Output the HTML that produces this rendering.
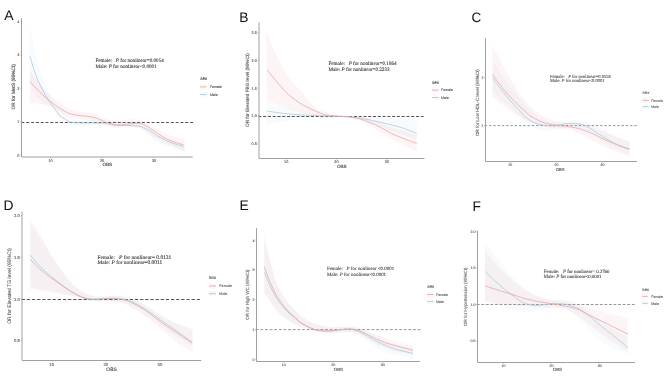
<!DOCTYPE html>
<html><head><meta charset="utf-8"><style>
html,body{margin:0;padding:0;background:#fff;width:669px;height:377px;overflow:hidden;}
svg{display:block;filter:blur(0.45px);}
text{text-rendering:geometricPrecision;}
</style></head><body>
<svg width="669" height="377" viewBox="0 0 669 377" font-family='"Liberation Sans", sans-serif'>
<rect width="669" height="377" fill="#fff"/>
<path d="M29.80,70.00 C31.50,72.33 36.63,79.83 40.00,84.00 C43.37,88.17 46.67,91.83 50.00,95.00 C53.33,98.17 56.67,100.67 60.00,103.00 C63.33,105.33 65.83,107.42 70.00,109.00 C74.17,110.58 80.83,111.75 85.00,112.50 C89.17,113.25 91.67,112.50 95.00,113.50 C98.33,114.50 101.67,117.33 105.00,118.50 C108.33,119.67 111.33,120.33 115.00,120.50 C118.67,120.67 122.83,119.58 127.00,119.50 C131.17,119.42 135.33,118.50 140.00,120.00 C144.67,121.50 150.00,125.92 155.00,128.50 C160.00,131.08 165.05,133.67 170.00,135.50 C174.95,137.33 182.25,138.83 184.70,139.50 L184.70,151.00 C182.25,150.08 174.95,147.67 170.00,145.50 C165.05,143.33 160.00,140.92 155.00,138.00 C150.00,135.08 144.67,129.92 140.00,128.00 C135.33,126.08 131.17,126.67 127.00,126.50 C122.83,126.33 118.67,127.17 115.00,127.00 C111.33,126.83 108.33,126.42 105.00,125.50 C101.67,124.58 98.33,122.42 95.00,121.50 C91.67,120.58 89.17,120.75 85.00,120.00 C80.83,119.25 74.17,118.33 70.00,117.00 C65.83,115.67 63.33,113.83 60.00,112.00 C56.67,110.17 53.33,107.33 50.00,106.00 C46.67,104.67 43.37,104.50 40.00,104.00 C36.63,103.50 31.50,103.17 29.80,103.00 Z" fill="#f0969b" fill-opacity="0.10"/>
<path d="M29.80,25.00 C30.67,29.17 33.30,42.50 35.00,50.00 C36.70,57.50 38.33,64.33 40.00,70.00 C41.67,75.67 43.33,79.83 45.00,84.00 C46.67,88.17 48.33,91.83 50.00,95.00 C51.67,98.17 53.33,100.50 55.00,103.00 C56.67,105.50 57.50,107.67 60.00,110.00 C62.50,112.33 65.83,115.33 70.00,117.00 C74.17,118.67 79.17,119.42 85.00,120.00 C90.83,120.58 100.00,120.17 105.00,120.50 C110.00,120.83 111.33,121.67 115.00,122.00 C118.67,122.33 122.83,122.33 127.00,122.50 C131.17,122.67 135.33,121.08 140.00,123.00 C144.67,124.92 150.00,131.17 155.00,134.00 C160.00,136.83 165.05,138.42 170.00,140.00 C174.95,141.58 182.25,142.92 184.70,143.50 L184.70,151.50 C182.25,150.75 174.95,148.83 170.00,147.00 C165.05,145.17 160.00,143.50 155.00,140.50 C150.00,137.50 144.67,131.25 140.00,129.00 C135.33,126.75 131.17,127.25 127.00,127.00 C122.83,126.75 118.67,127.75 115.00,127.50 C111.33,127.25 110.00,125.83 105.00,125.50 C100.00,125.17 90.83,125.67 85.00,125.50 C79.17,125.33 74.17,125.58 70.00,124.50 C65.83,123.42 62.50,120.92 60.00,119.00 C57.50,117.08 56.67,114.83 55.00,113.00 C53.33,111.17 51.67,109.50 50.00,108.00 C48.33,106.50 46.67,105.33 45.00,104.00 C43.33,102.67 41.67,101.50 40.00,100.00 C38.33,98.50 36.70,97.50 35.00,95.00 C33.30,92.50 30.67,86.67 29.80,85.00 Z" fill="#96c8dc" fill-opacity="0.07"/>
<line x1="21.40" y1="122.50" x2="193.20" y2="122.50" stroke="#555555" stroke-width="1.10" stroke-dasharray="3.0,1.82"/>
<path d="M29.80,55.80 C30.58,58.38 32.92,66.73 34.50,71.30 C36.08,75.87 37.70,79.62 39.30,83.20 C40.90,86.78 42.50,89.82 44.10,92.80 C45.70,95.78 47.32,98.72 48.90,101.10 C50.48,103.48 51.75,104.67 53.60,107.10 C55.45,109.53 58.03,113.67 60.00,115.70 C61.97,117.73 63.90,118.33 65.40,119.30 C66.90,120.27 67.40,120.92 69.00,121.50 C70.60,122.08 71.50,122.55 75.00,122.80 C78.50,123.05 85.00,122.93 90.00,123.00 C95.00,123.07 101.33,122.92 105.00,123.20 C108.67,123.48 109.50,124.33 112.00,124.70 C114.50,125.07 117.60,125.28 120.00,125.40 C122.40,125.52 124.28,125.35 126.40,125.40 C128.52,125.45 130.58,125.58 132.70,125.70 C134.82,125.82 137.33,125.80 139.10,126.10 C140.87,126.40 141.53,126.73 143.30,127.50 C145.07,128.27 147.57,129.47 149.70,130.70 C151.83,131.93 153.98,133.58 156.10,134.90 C158.22,136.22 160.28,137.45 162.40,138.60 C164.52,139.75 166.68,140.88 168.80,141.80 C170.92,142.72 172.63,143.30 175.10,144.10 C177.57,144.90 182.18,146.18 183.60,146.60" fill="none" stroke="#a8cadd" stroke-width="0.78"/>
<path d="M29.80,81.40 C30.58,82.25 32.92,84.80 34.50,86.50 C36.08,88.20 37.72,90.02 39.30,91.60 C40.88,93.18 42.42,94.57 44.00,96.00 C45.58,97.43 47.22,98.87 48.80,100.20 C50.38,101.53 52.05,102.90 53.50,104.00 C54.95,105.10 56.08,105.88 57.50,106.80 C58.92,107.72 60.08,108.38 62.00,109.50 C63.92,110.62 66.35,112.52 69.00,113.50 C71.65,114.48 74.92,114.93 77.90,115.40 C80.88,115.87 84.20,115.95 86.90,116.30 C89.60,116.65 92.00,117.00 94.10,117.50 C96.20,118.00 97.72,118.55 99.50,119.30 C101.28,120.05 103.05,121.28 104.80,122.00 C106.55,122.72 108.30,123.18 110.00,123.60 C111.70,124.02 113.33,124.30 115.00,124.50 C116.67,124.70 118.10,124.83 120.00,124.80 C121.90,124.77 124.28,124.50 126.40,124.30 C128.52,124.10 130.58,123.77 132.70,123.60 C134.82,123.43 137.33,123.18 139.10,123.30 C140.87,123.42 141.53,123.52 143.30,124.30 C145.07,125.08 147.57,126.67 149.70,128.00 C151.83,129.33 153.98,130.88 156.10,132.30 C158.22,133.72 160.28,135.22 162.40,136.50 C164.52,137.78 166.68,139.03 168.80,140.00 C170.92,140.97 172.63,141.47 175.10,142.30 C177.57,143.13 182.18,144.55 183.60,145.00" fill="none" stroke="#e5a5ad" stroke-width="0.78"/>
<path d="M21.50,18.30 V157.00 H192.70" fill="none" stroke="#a0a0a0" stroke-width="1.00"/>
<line x1="20.30" y1="21.40" x2="21.50" y2="21.40" stroke="#8a8a8a" stroke-width="0.5"/>
<text x="19.40" y="22.92" font-size="3.80" text-anchor="end" fill="#666" stroke="#666" stroke-width="0.14" font-family='"Liberation Sans", sans-serif'>4</text>
<line x1="20.30" y1="54.80" x2="21.50" y2="54.80" stroke="#8a8a8a" stroke-width="0.5"/>
<text x="19.40" y="56.32" font-size="3.80" text-anchor="end" fill="#666" stroke="#666" stroke-width="0.14" font-family='"Liberation Sans", sans-serif'>3</text>
<line x1="20.30" y1="88.20" x2="21.50" y2="88.20" stroke="#8a8a8a" stroke-width="0.5"/>
<text x="19.40" y="89.72" font-size="3.80" text-anchor="end" fill="#666" stroke="#666" stroke-width="0.14" font-family='"Liberation Sans", sans-serif'>2</text>
<line x1="20.30" y1="121.80" x2="21.50" y2="121.80" stroke="#8a8a8a" stroke-width="0.5"/>
<text x="19.40" y="123.32" font-size="3.80" text-anchor="end" fill="#666" stroke="#666" stroke-width="0.14" font-family='"Liberation Sans", sans-serif'>1</text>
<line x1="20.30" y1="155.10" x2="21.50" y2="155.10" stroke="#8a8a8a" stroke-width="0.5"/>
<text x="19.40" y="156.62" font-size="3.80" text-anchor="end" fill="#666" stroke="#666" stroke-width="0.14" font-family='"Liberation Sans", sans-serif'>0</text>
<line x1="50.60" y1="157.00" x2="50.60" y2="158.20" stroke="#8a8a8a" stroke-width="0.5"/>
<text x="50.60" y="161.94" font-size="3.80" text-anchor="middle" fill="#666" stroke="#666" stroke-width="0.14" font-family='"Liberation Sans", sans-serif'>10</text>
<line x1="102.00" y1="157.00" x2="102.00" y2="158.20" stroke="#8a8a8a" stroke-width="0.5"/>
<text x="102.00" y="161.94" font-size="3.80" text-anchor="middle" fill="#666" stroke="#666" stroke-width="0.14" font-family='"Liberation Sans", sans-serif'>20</text>
<line x1="154.00" y1="157.00" x2="154.00" y2="158.20" stroke="#8a8a8a" stroke-width="0.5"/>
<text x="154.00" y="161.94" font-size="3.80" text-anchor="middle" fill="#666" stroke="#666" stroke-width="0.14" font-family='"Liberation Sans", sans-serif'>30</text>
<text x="107.20" y="165.82" font-size="4.50" text-anchor="middle" fill="#454545" stroke="#454545" stroke-width="0.15" font-family='"Liberation Sans", sans-serif'>OBS</text>
<text transform="translate(14.62,86.75) rotate(-90)" font-size="4.79" text-anchor="middle" fill="#4a4a4a" stroke="#4a4a4a" stroke-width="0.13" font-family='"Liberation Sans", sans-serif'>OR for MetS (95%CI)</text>
<text x="4.20" y="19.90" font-size="14.00" fill="#111" font-family='"Liberation Sans", sans-serif'>A</text>
<text x="95.40" y="62.20" font-size="5.14" fill="#333" stroke="#333" stroke-width="0.1" font-family='"Liberation Serif", serif'>Female:<tspan dx="3.85" font-style="italic">P</tspan> for nonlinear=0.0054</text>
<text x="95.40" y="67.60" font-size="5.14" fill="#333" stroke="#333" stroke-width="0.1" font-family='"Liberation Serif", serif'>Male:<tspan dx="1.28" font-style="italic">P</tspan> for nonlinear&lt;0.0001</text>
<text x="200.20" y="80.44" font-size="4.46" fill="#444" stroke="#444" stroke-width="0.12" font-family='"Liberation Sans", sans-serif'>sex</text>
<rect x="200.20" y="84.00" width="6.10" height="5.80" fill="#f0969b" fill-opacity="0.08"/>
<rect x="200.20" y="91.70" width="6.10" height="5.80" fill="#96c8dc" fill-opacity="0.07"/>
<line x1="200.20" y1="86.90" x2="206.30" y2="86.90" stroke="#e5a5ad" stroke-width="0.9"/>
<line x1="200.20" y1="94.60" x2="206.30" y2="94.60" stroke="#a8cadd" stroke-width="0.9"/>
<text x="209.90" y="88.19" font-size="3.57" fill="#555" stroke="#555" stroke-width="0.1" font-family='"Liberation Sans", sans-serif'>Female</text>
<text x="209.90" y="95.89" font-size="3.57" fill="#555" stroke="#555" stroke-width="0.1" font-family='"Liberation Sans", sans-serif'>Male</text>
<path d="M266.30,30.50 C266.92,32.08 268.72,36.75 270.00,40.00 C271.28,43.25 272.50,46.67 274.00,50.00 C275.50,53.33 277.45,57.00 279.00,60.00 C280.55,63.00 281.70,65.17 283.30,68.00 C284.90,70.83 286.65,74.17 288.60,77.00 C290.55,79.83 292.77,82.50 295.00,85.00 C297.23,87.50 298.67,88.33 302.00,92.00 C305.33,95.67 310.67,103.50 315.00,107.00 C319.33,110.50 323.83,111.58 328.00,113.00 C332.17,114.42 335.50,114.92 340.00,115.50 C344.50,116.08 350.00,115.92 355.00,116.50 C360.00,117.08 365.00,117.58 370.00,119.00 C375.00,120.42 379.83,123.17 385.00,125.00 C390.17,126.83 395.72,128.33 401.00,130.00 C406.28,131.67 414.08,134.17 416.70,135.00 L416.70,151.40 C414.08,150.17 406.28,146.73 401.00,144.00 C395.72,141.27 390.30,138.18 385.00,135.00 C379.70,131.82 374.20,127.48 369.20,124.90 C364.20,122.32 359.87,120.77 355.00,119.50 C350.13,118.23 344.50,117.63 340.00,117.30 C335.50,116.97 332.17,117.72 328.00,117.50 C323.83,117.28 319.33,116.75 315.00,116.00 C310.67,115.25 306.17,114.17 302.00,113.00 C297.83,111.83 294.17,110.50 290.00,109.00 C285.83,107.50 280.87,105.62 277.00,104.00 C273.13,102.38 268.50,100.08 266.80,99.30 Z" fill="#f0969b" fill-opacity="0.10"/>
<path d="M266.80,100.30 C270.67,101.58 281.97,105.88 290.00,108.00 C298.03,110.12 306.67,111.70 315.00,113.00 C323.33,114.30 333.33,115.30 340.00,115.80 C346.67,116.30 350.00,115.88 355.00,116.00 C360.00,116.12 365.00,116.25 370.00,116.50 C375.00,116.75 379.83,117.08 385.00,117.50 C390.17,117.92 395.72,118.77 401.00,119.00 C406.28,119.23 414.08,118.92 416.70,118.90 L416.70,140.00 C414.08,139.00 406.28,136.00 401.00,134.00 C395.72,132.00 390.17,130.00 385.00,128.00 C379.83,126.00 375.00,123.67 370.00,122.00 C365.00,120.33 360.00,118.83 355.00,118.00 C350.00,117.17 346.67,117.00 340.00,117.00 C333.33,117.00 323.33,117.42 315.00,118.00 C306.67,118.58 298.03,119.37 290.00,120.50 C281.97,121.63 270.67,124.08 266.80,124.80 Z" fill="#96c8dc" fill-opacity="0.07"/>
<line x1="258.40" y1="116.50" x2="423.60" y2="116.50" stroke="#555555" stroke-width="1.10" stroke-dasharray="3.0,1.776"/>
<path d="M266.80,111.00 C270.62,111.52 281.63,113.33 289.70,114.10 C297.77,114.87 306.82,115.23 315.20,115.60 C323.58,115.97 334.10,116.08 340.00,116.30 C345.90,116.52 346.18,116.40 350.60,116.90 C355.02,117.40 361.63,118.42 366.50,119.30 C371.37,120.18 374.05,120.83 379.80,122.20 C385.55,123.57 394.85,125.62 401.00,127.50 C407.15,129.38 414.08,132.50 416.70,133.50" fill="none" stroke="#a8cadd" stroke-width="0.78"/>
<path d="M267.00,70.00 C267.93,71.10 270.78,74.40 272.60,76.60 C274.42,78.80 276.13,81.10 277.90,83.20 C279.67,85.30 281.43,87.32 283.20,89.20 C284.97,91.08 286.50,92.73 288.50,94.50 C290.50,96.27 292.98,98.15 295.20,99.80 C297.42,101.45 299.15,102.85 301.80,104.40 C304.45,105.95 308.07,107.67 311.10,109.10 C314.13,110.53 317.18,111.95 320.00,113.00 C322.82,114.05 324.67,114.85 328.00,115.40 C331.33,115.95 336.23,116.00 340.00,116.30 C343.77,116.60 347.28,116.77 350.60,117.20 C353.92,117.63 356.80,118.07 359.90,118.90 C363.00,119.73 365.88,120.87 369.20,122.20 C372.52,123.53 376.27,125.12 379.80,126.90 C383.33,128.68 386.87,131.13 390.40,132.90 C393.93,134.67 396.62,135.73 401.00,137.50 C405.38,139.27 414.08,142.50 416.70,143.50" fill="none" stroke="#e5a5ad" stroke-width="0.78"/>
<path d="M259.00,22.30 V158.50 H424.50" fill="none" stroke="#a0a0a0" stroke-width="1.00"/>
<line x1="257.80" y1="32.60" x2="259.00" y2="32.60" stroke="#8a8a8a" stroke-width="0.5"/>
<text x="256.90" y="34.12" font-size="3.80" text-anchor="end" fill="#666" stroke="#666" stroke-width="0.14" font-family='"Liberation Sans", sans-serif'>2.5</text>
<line x1="257.80" y1="60.30" x2="259.00" y2="60.30" stroke="#8a8a8a" stroke-width="0.5"/>
<text x="256.90" y="61.82" font-size="3.80" text-anchor="end" fill="#666" stroke="#666" stroke-width="0.14" font-family='"Liberation Sans", sans-serif'>2.0</text>
<line x1="257.80" y1="88.20" x2="259.00" y2="88.20" stroke="#8a8a8a" stroke-width="0.5"/>
<text x="256.90" y="89.72" font-size="3.80" text-anchor="end" fill="#666" stroke="#666" stroke-width="0.14" font-family='"Liberation Sans", sans-serif'>1.5</text>
<line x1="257.80" y1="115.90" x2="259.00" y2="115.90" stroke="#8a8a8a" stroke-width="0.5"/>
<text x="256.90" y="117.42" font-size="3.80" text-anchor="end" fill="#666" stroke="#666" stroke-width="0.14" font-family='"Liberation Sans", sans-serif'>1.0</text>
<line x1="257.80" y1="143.90" x2="259.00" y2="143.90" stroke="#8a8a8a" stroke-width="0.5"/>
<text x="256.90" y="145.42" font-size="3.80" text-anchor="end" fill="#666" stroke="#666" stroke-width="0.14" font-family='"Liberation Sans", sans-serif'>0.5</text>
<line x1="286.20" y1="158.50" x2="286.20" y2="159.70" stroke="#8a8a8a" stroke-width="0.5"/>
<text x="286.20" y="163.44" font-size="3.80" text-anchor="middle" fill="#666" stroke="#666" stroke-width="0.14" font-family='"Liberation Sans", sans-serif'>10</text>
<line x1="336.40" y1="158.50" x2="336.40" y2="159.70" stroke="#8a8a8a" stroke-width="0.5"/>
<text x="336.40" y="163.44" font-size="3.80" text-anchor="middle" fill="#666" stroke="#666" stroke-width="0.14" font-family='"Liberation Sans", sans-serif'>20</text>
<line x1="386.90" y1="158.50" x2="386.90" y2="159.70" stroke="#8a8a8a" stroke-width="0.5"/>
<text x="386.90" y="163.44" font-size="3.80" text-anchor="middle" fill="#666" stroke="#666" stroke-width="0.14" font-family='"Liberation Sans", sans-serif'>30</text>
<text x="341.70" y="167.92" font-size="4.50" text-anchor="middle" fill="#4a4a4a" stroke="#4a4a4a" stroke-width="0.15" font-family='"Liberation Sans", sans-serif'>OBS</text>
<text transform="translate(248.99,90.15) rotate(-90)" font-size="4.70" text-anchor="middle" fill="#5a5a5a" stroke="#5a5a5a" stroke-width="0.13" font-family='"Liberation Sans", sans-serif'>OR for Elevated FBG level (95%CI)</text>
<text x="239.30" y="21.50" font-size="13.80" fill="#111" font-family='"Liberation Sans", sans-serif'>B</text>
<text x="328.40" y="65.09" font-size="5.12" fill="#333" stroke="#333" stroke-width="0.1" font-family='"Liberation Serif", serif'>Female:<tspan dx="3.84" font-style="italic">P</tspan> for nonlinear=0.1864</text>
<text x="328.40" y="70.79" font-size="5.12" fill="#333" stroke="#333" stroke-width="0.1" font-family='"Liberation Serif", serif'>Male:<tspan dx="1.28" font-style="italic">P</tspan> for nonlinear=0.2233</text>
<text x="432.00" y="83.64" font-size="4.46" fill="#4a4a4a" stroke="#4a4a4a" stroke-width="0.12" font-family='"Liberation Sans", sans-serif'>sex</text>
<rect x="432.00" y="87.20" width="6.70" height="5.80" fill="#f0969b" fill-opacity="0.08"/>
<rect x="432.00" y="94.60" width="6.70" height="5.80" fill="#96c8dc" fill-opacity="0.07"/>
<line x1="432.00" y1="90.10" x2="438.70" y2="90.10" stroke="#e5a5ad" stroke-width="0.9"/>
<line x1="432.00" y1="97.50" x2="438.70" y2="97.50" stroke="#a8cadd" stroke-width="0.9"/>
<text x="441.10" y="91.39" font-size="3.57" fill="#5a5a5a" stroke="#5a5a5a" stroke-width="0.1" font-family='"Liberation Sans", sans-serif'>Female</text>
<text x="441.10" y="98.79" font-size="3.57" fill="#5a5a5a" stroke="#5a5a5a" stroke-width="0.1" font-family='"Liberation Sans", sans-serif'>Male</text>
<path d="M492.40,45.30 C493.67,47.75 497.07,54.55 500.00,60.00 C502.93,65.45 506.67,72.33 510.00,78.00 C513.33,83.67 516.67,89.33 520.00,94.00 C523.33,98.67 526.67,102.67 530.00,106.00 C533.33,109.33 536.67,111.83 540.00,114.00 C543.33,116.17 546.67,117.67 550.00,119.00 C553.33,120.33 556.67,121.42 560.00,122.00 C563.33,122.58 566.67,122.25 570.00,122.50 C573.33,122.75 576.67,122.83 580.00,123.50 C583.33,124.17 586.67,125.42 590.00,126.50 C593.33,127.58 596.33,128.58 600.00,130.00 C603.67,131.42 607.08,133.08 612.00,135.00 C616.92,136.92 626.58,140.42 629.50,141.50 L629.50,155.80 C626.58,154.83 616.92,151.88 612.00,150.00 C607.08,148.12 603.67,146.33 600.00,144.50 C596.33,142.67 593.33,140.75 590.00,139.00 C586.67,137.25 583.33,135.50 580.00,134.00 C576.67,132.50 573.33,130.92 570.00,130.00 C566.67,129.08 563.33,128.92 560.00,128.50 C556.67,128.08 553.33,128.00 550.00,127.50 C546.67,127.00 543.33,126.42 540.00,125.50 C536.67,124.58 533.33,123.42 530.00,122.00 C526.67,120.58 523.33,119.00 520.00,117.00 C516.67,115.00 513.33,112.33 510.00,110.00 C506.67,107.67 502.93,105.17 500.00,103.00 C497.07,100.83 493.67,98.00 492.40,97.00 Z" fill="#f0969b" fill-opacity="0.10"/>
<path d="M492.40,60.00 C493.67,62.00 497.07,67.67 500.00,72.00 C502.93,76.33 506.67,81.50 510.00,86.00 C513.33,90.50 516.67,95.00 520.00,99.00 C523.33,103.00 526.67,106.92 530.00,110.00 C533.33,113.08 536.67,115.58 540.00,117.50 C543.33,119.42 546.67,120.83 550.00,121.50 C553.33,122.17 556.67,121.75 560.00,121.50 C563.33,121.25 566.67,120.25 570.00,120.00 C573.33,119.75 576.67,119.58 580.00,120.00 C583.33,120.42 586.67,121.25 590.00,122.50 C593.33,123.75 596.33,125.58 600.00,127.50 C603.67,129.42 607.08,131.58 612.00,134.00 C616.92,136.42 626.58,140.67 629.50,142.00 L629.50,155.00 C626.58,153.67 616.92,149.67 612.00,147.00 C607.08,144.33 603.67,141.50 600.00,139.00 C596.33,136.50 593.33,133.67 590.00,132.00 C586.67,130.33 583.33,129.67 580.00,129.00 C576.67,128.33 573.33,128.00 570.00,128.00 C566.67,128.00 563.33,128.50 560.00,129.00 C556.67,129.50 553.33,130.83 550.00,131.00 C546.67,131.17 543.33,131.00 540.00,130.00 C536.67,129.00 533.33,127.17 530.00,125.00 C526.67,122.83 523.33,120.00 520.00,117.00 C516.67,114.00 513.33,110.00 510.00,107.00 C506.67,104.00 502.93,101.50 500.00,99.00 C497.07,96.50 493.67,93.17 492.40,92.00 Z" fill="#96c8dc" fill-opacity="0.07"/>
<line x1="484.70" y1="125.60" x2="637.00" y2="125.60" stroke="#909090" stroke-width="0.95" stroke-dasharray="2.5,1.774"/>
<path d="M492.50,77.60 C493.35,78.78 495.70,82.18 497.60,84.70 C499.50,87.22 501.78,90.05 503.90,92.70 C506.02,95.35 508.17,98.13 510.30,100.60 C512.43,103.07 514.28,104.85 516.70,107.50 C519.12,110.15 522.67,114.42 524.80,116.50 C526.93,118.58 527.92,118.97 529.50,120.00 C531.08,121.03 532.70,122.00 534.30,122.70 C535.90,123.40 537.52,123.77 539.10,124.20 C540.68,124.63 542.22,125.03 543.80,125.30 C545.38,125.57 547.00,125.70 548.60,125.80 C550.20,125.90 551.83,126.00 553.40,125.90 C554.97,125.80 556.40,125.48 558.00,125.20 C559.60,124.92 561.33,124.47 563.00,124.20 C564.67,123.93 566.33,123.75 568.00,123.60 C569.67,123.45 571.33,123.28 573.00,123.30 C574.67,123.32 576.07,123.37 578.00,123.70 C579.93,124.03 582.05,124.18 584.60,125.30 C587.15,126.42 590.38,128.58 593.30,130.40 C596.22,132.22 598.70,134.13 602.10,136.20 C605.50,138.27 610.55,141.17 613.70,142.80 C616.85,144.43 618.37,144.98 621.00,146.00 C623.63,147.02 628.08,148.42 629.50,148.90" fill="none" stroke="#a8cadd" stroke-width="0.78"/>
<path d="M492.50,74.40 C493.35,75.58 495.70,78.98 497.60,81.50 C499.50,84.02 501.78,86.92 503.90,89.50 C506.02,92.08 508.17,94.67 510.30,97.00 C512.43,99.33 514.28,101.13 516.70,103.50 C519.12,105.87 522.67,109.23 524.80,111.20 C526.93,113.17 527.92,114.12 529.50,115.30 C531.08,116.48 532.70,117.40 534.30,118.30 C535.90,119.20 537.52,119.97 539.10,120.70 C540.68,121.43 542.22,122.18 543.80,122.70 C545.38,123.22 547.00,123.45 548.60,123.80 C550.20,124.15 551.83,124.55 553.40,124.80 C554.97,125.05 556.57,125.12 558.00,125.30 C559.43,125.48 560.67,125.72 562.00,125.90 C563.33,126.08 564.67,126.23 566.00,126.40 C567.33,126.57 568.00,126.57 570.00,126.90 C572.00,127.23 575.57,127.80 578.00,128.40 C580.43,129.00 582.05,129.57 584.60,130.50 C587.15,131.43 590.38,132.68 593.30,134.00 C596.22,135.32 598.70,136.82 602.10,138.40 C605.50,139.98 610.55,142.15 613.70,143.50 C616.85,144.85 618.37,145.53 621.00,146.50 C623.63,147.47 628.08,148.83 629.50,149.30" fill="none" stroke="#e5a5ad" stroke-width="0.78"/>
<path d="M485.50,38.20 V161.50 H636.90" fill="none" stroke="#a0a0a0" stroke-width="1.00"/>
<line x1="484.30" y1="77.40" x2="485.50" y2="77.40" stroke="#8a8a8a" stroke-width="0.5"/>
<text x="483.40" y="78.80" font-size="3.50" text-anchor="end" fill="#666" stroke="#666" stroke-width="0.14" font-family='"Liberation Sans", sans-serif'>2</text>
<line x1="484.30" y1="125.50" x2="485.50" y2="125.50" stroke="#8a8a8a" stroke-width="0.5"/>
<text x="483.40" y="126.90" font-size="3.50" text-anchor="end" fill="#666" stroke="#666" stroke-width="0.14" font-family='"Liberation Sans", sans-serif'>1</text>
<line x1="510.20" y1="161.50" x2="510.20" y2="162.70" stroke="#8a8a8a" stroke-width="0.5"/>
<text x="510.20" y="166.22" font-size="3.50" text-anchor="middle" fill="#666" stroke="#666" stroke-width="0.14" font-family='"Liberation Sans", sans-serif'>10</text>
<line x1="556.50" y1="161.50" x2="556.50" y2="162.70" stroke="#8a8a8a" stroke-width="0.5"/>
<text x="556.50" y="166.22" font-size="3.50" text-anchor="middle" fill="#666" stroke="#666" stroke-width="0.14" font-family='"Liberation Sans", sans-serif'>20</text>
<line x1="602.50" y1="161.50" x2="602.50" y2="162.70" stroke="#8a8a8a" stroke-width="0.5"/>
<text x="602.50" y="166.22" font-size="3.50" text-anchor="middle" fill="#666" stroke="#666" stroke-width="0.14" font-family='"Liberation Sans", sans-serif'>30</text>
<text x="560.20" y="170.61" font-size="4.20" text-anchor="middle" fill="#5a5a5a" stroke="#5a5a5a" stroke-width="0.15" font-family='"Liberation Sans", sans-serif'>OBS</text>
<text transform="translate(479.35,102.65) rotate(-90)" font-size="4.57" text-anchor="middle" fill="#6a6a6a" stroke="#6a6a6a" stroke-width="0.13" font-family='"Liberation Sans", sans-serif'>OR for Low HDL-C level (95%CI)</text>
<text x="471.40" y="22.00" font-size="13.50" fill="#111" font-family='"Liberation Sans", sans-serif'>C</text>
<text x="550.00" y="77.91" font-size="4.57" fill="#555" stroke="#555" stroke-width="0.1" font-family='"Liberation Serif", serif'>Female:<tspan dx="3.43" font-style="italic">P</tspan> for nonlinear=0.0558</text>
<text x="550.00" y="82.41" font-size="4.57" fill="#555" stroke="#555" stroke-width="0.1" font-family='"Liberation Serif", serif'>Male:<tspan dx="1.14" font-style="italic">P</tspan> for nonlinear&lt;0.0001</text>
<text x="642.60" y="94.41" font-size="4.38" fill="#606060" stroke="#606060" stroke-width="0.12" font-family='"Liberation Sans", sans-serif'>sex</text>
<rect x="642.60" y="97.40" width="6.20" height="5.80" fill="#f0969b" fill-opacity="0.08"/>
<rect x="642.60" y="103.70" width="6.20" height="5.80" fill="#96c8dc" fill-opacity="0.07"/>
<line x1="642.60" y1="100.30" x2="648.80" y2="100.30" stroke="#e5a5ad" stroke-width="0.9"/>
<line x1="642.60" y1="106.60" x2="648.80" y2="106.60" stroke="#a8cadd" stroke-width="0.9"/>
<text x="651.20" y="101.56" font-size="3.50" fill="#707070" stroke="#707070" stroke-width="0.1" font-family='"Liberation Sans", sans-serif'>Female</text>
<text x="651.20" y="107.86" font-size="3.50" fill="#707070" stroke="#707070" stroke-width="0.1" font-family='"Liberation Sans", sans-serif'>Male</text>
<path d="M30.30,220.60 C32.07,223.25 37.37,230.75 40.90,236.50 C44.43,242.25 47.97,249.35 51.50,255.10 C55.03,260.85 58.57,266.13 62.10,271.00 C65.63,275.87 69.15,280.77 72.70,284.30 C76.25,287.83 79.85,290.22 83.40,292.20 C86.95,294.18 90.40,295.48 94.00,296.20 C97.60,296.92 101.50,296.53 105.00,296.50 C108.50,296.47 111.67,295.92 115.00,296.00 C118.33,296.08 120.83,296.00 125.00,297.00 C129.17,298.00 134.17,298.95 140.00,302.00 C145.83,305.05 154.17,311.80 160.00,315.30 C165.83,318.80 169.58,320.67 175.00,323.00 C180.42,325.33 189.58,328.25 192.50,329.30 L192.50,353.00 C189.58,351.00 180.42,345.17 175.00,341.00 C169.58,336.83 165.83,332.67 160.00,328.00 C154.17,323.33 145.83,317.00 140.00,313.00 C134.17,309.00 129.17,305.87 125.00,304.00 C120.83,302.13 118.33,302.22 115.00,301.80 C111.67,301.38 108.50,301.55 105.00,301.50 C101.50,301.45 97.60,301.93 94.00,301.50 C90.40,301.07 86.95,299.78 83.40,298.90 C79.85,298.02 76.25,296.95 72.70,296.20 C69.15,295.45 65.63,295.07 62.10,294.40 C58.57,293.73 55.03,292.78 51.50,292.20 C47.97,291.62 44.43,291.33 40.90,290.90 C37.37,290.47 32.07,289.82 30.30,289.60 Z" fill="#f0969b" fill-opacity="0.10"/>
<path d="M30.30,224.00 C32.07,226.50 37.37,233.67 40.90,239.00 C44.43,244.33 47.97,250.58 51.50,256.00 C55.03,261.42 58.57,266.75 62.10,271.50 C65.63,276.25 69.15,281.00 72.70,284.50 C76.25,288.00 79.85,290.55 83.40,292.50 C86.95,294.45 90.40,295.70 94.00,296.20 C97.60,296.70 101.50,295.62 105.00,295.50 C108.50,295.38 111.67,295.33 115.00,295.50 C118.33,295.67 120.83,295.50 125.00,296.50 C129.17,297.50 134.17,298.58 140.00,301.50 C145.83,304.42 154.17,310.50 160.00,314.00 C165.83,317.50 169.58,320.00 175.00,322.50 C180.42,325.00 189.58,327.92 192.50,329.00 L192.50,347.00 C189.58,345.17 180.42,339.67 175.00,336.00 C169.58,332.33 165.83,329.17 160.00,325.00 C154.17,320.83 145.83,314.58 140.00,311.00 C134.17,307.42 129.17,305.08 125.00,303.50 C120.83,301.92 118.33,301.92 115.00,301.50 C111.67,301.08 108.50,301.08 105.00,301.00 C101.50,300.92 97.60,301.42 94.00,301.00 C90.40,300.58 86.95,299.33 83.40,298.50 C79.85,297.67 76.25,296.83 72.70,296.00 C69.15,295.17 65.63,294.33 62.10,293.50 C58.57,292.67 55.03,291.75 51.50,291.00 C47.97,290.25 44.43,289.67 40.90,289.00 C37.37,288.33 32.07,287.33 30.30,287.00 Z" fill="#96c8dc" fill-opacity="0.07"/>
<line x1="21.70" y1="299.50" x2="200.00" y2="299.50" stroke="#555555" stroke-width="1.10" stroke-dasharray="3.3,1.847"/>
<path d="M30.20,255.10 C31.78,256.92 36.42,262.60 39.70,266.00 C42.98,269.40 46.50,272.58 49.90,275.50 C53.30,278.42 56.70,280.95 60.10,283.50 C63.50,286.05 66.90,288.65 70.30,290.80 C73.70,292.95 77.35,295.07 80.50,296.40 C83.65,297.73 86.12,298.40 89.20,298.80 C92.28,299.20 95.77,298.90 99.00,298.80 C102.23,298.70 105.15,298.23 108.60,298.20 C112.05,298.17 115.98,298.07 119.70,298.60 C123.42,299.13 126.55,299.60 130.90,301.40 C135.25,303.20 140.85,306.30 145.80,309.40 C150.75,312.50 155.65,316.53 160.60,320.00 C165.55,323.47 170.23,326.48 175.50,330.20 C180.77,333.92 189.42,340.28 192.20,342.30" fill="none" stroke="#a8cadd" stroke-width="0.78"/>
<path d="M30.20,259.00 C31.78,260.67 36.42,266.00 39.70,269.00 C42.98,272.00 46.50,274.45 49.90,277.00 C53.30,279.55 56.70,281.92 60.10,284.30 C63.50,286.68 66.90,289.25 70.30,291.30 C73.70,293.35 77.22,295.27 80.50,296.60 C83.78,297.93 86.92,298.87 90.00,299.30 C93.08,299.73 95.90,299.32 99.00,299.20 C102.10,299.08 105.15,298.62 108.60,298.60 C112.05,298.58 115.98,298.48 119.70,299.10 C123.42,299.72 126.55,300.37 130.90,302.30 C135.25,304.23 140.85,307.45 145.80,310.70 C150.75,313.95 155.65,318.25 160.60,321.80 C165.55,325.35 170.23,328.43 175.50,332.00 C180.77,335.57 189.42,341.33 192.20,343.20" fill="none" stroke="#e5a5ad" stroke-width="0.78"/>
<path d="M22.00,211.70 V360.50 H201.20" fill="none" stroke="#a0a0a0" stroke-width="1.00"/>
<line x1="20.80" y1="215.50" x2="22.00" y2="215.50" stroke="#8a8a8a" stroke-width="0.5"/>
<text x="19.90" y="217.18" font-size="4.20" text-anchor="end" fill="#666" stroke="#666" stroke-width="0.14" font-family='"Liberation Sans", sans-serif'>2.0</text>
<line x1="20.80" y1="257.20" x2="22.00" y2="257.20" stroke="#8a8a8a" stroke-width="0.5"/>
<text x="19.90" y="258.88" font-size="4.20" text-anchor="end" fill="#666" stroke="#666" stroke-width="0.14" font-family='"Liberation Sans", sans-serif'>1.5</text>
<line x1="20.80" y1="299.00" x2="22.00" y2="299.00" stroke="#8a8a8a" stroke-width="0.5"/>
<text x="19.90" y="300.68" font-size="4.20" text-anchor="end" fill="#666" stroke="#666" stroke-width="0.14" font-family='"Liberation Sans", sans-serif'>1.0</text>
<line x1="20.80" y1="340.50" x2="22.00" y2="340.50" stroke="#8a8a8a" stroke-width="0.5"/>
<text x="19.90" y="342.18" font-size="4.20" text-anchor="end" fill="#666" stroke="#666" stroke-width="0.14" font-family='"Liberation Sans", sans-serif'>0.5</text>
<line x1="51.70" y1="360.50" x2="51.70" y2="361.70" stroke="#8a8a8a" stroke-width="0.5"/>
<text x="51.70" y="365.72" font-size="4.20" text-anchor="middle" fill="#666" stroke="#666" stroke-width="0.14" font-family='"Liberation Sans", sans-serif'>10</text>
<line x1="105.80" y1="360.50" x2="105.80" y2="361.70" stroke="#8a8a8a" stroke-width="0.5"/>
<text x="105.80" y="365.72" font-size="4.20" text-anchor="middle" fill="#666" stroke="#666" stroke-width="0.14" font-family='"Liberation Sans", sans-serif'>20</text>
<line x1="159.90" y1="360.50" x2="159.90" y2="361.70" stroke="#8a8a8a" stroke-width="0.5"/>
<text x="159.90" y="365.72" font-size="4.20" text-anchor="middle" fill="#666" stroke="#666" stroke-width="0.14" font-family='"Liberation Sans", sans-serif'>30</text>
<text x="111.60" y="371.10" font-size="5.00" text-anchor="middle" fill="#555555" stroke="#555555" stroke-width="0.15" font-family='"Liberation Sans", sans-serif'>OBS</text>
<text transform="translate(10.71,286.10) rotate(-90)" font-size="5.03" text-anchor="middle" fill="#666666" stroke="#666666" stroke-width="0.13" font-family='"Liberation Sans", sans-serif'>OR for Elevated TG level (95%CI)</text>
<text x="3.60" y="210.10" font-size="13.80" fill="#111" font-family='"Liberation Sans", sans-serif'>D</text>
<text x="97.40" y="259.20" font-size="5.45" fill="#333" stroke="#333" stroke-width="0.1" font-family='"Liberation Serif", serif'>Female:<tspan dx="4.09" font-style="italic">P</tspan> for nonlinear= 0.0131</text>
<text x="97.40" y="264.30" font-size="5.45" fill="#333" stroke="#333" stroke-width="0.1" font-family='"Liberation Serif", serif'>Male:<tspan dx="1.36" font-style="italic">P</tspan> for nonlinear=0.0011</text>
<text x="208.90" y="279.11" font-size="4.69" fill="#555" stroke="#555" stroke-width="0.12" font-family='"Liberation Sans", sans-serif'>sex</text>
<rect x="208.90" y="283.10" width="7.10" height="5.80" fill="#f0969b" fill-opacity="0.08"/>
<rect x="208.90" y="290.80" width="7.10" height="5.80" fill="#96c8dc" fill-opacity="0.07"/>
<line x1="208.90" y1="286.00" x2="216.00" y2="286.00" stroke="#e5a5ad" stroke-width="0.9"/>
<line x1="208.90" y1="293.70" x2="216.00" y2="293.70" stroke="#a8cadd" stroke-width="0.9"/>
<text x="219.30" y="287.35" font-size="3.75" fill="#606060" stroke="#606060" stroke-width="0.1" font-family='"Liberation Sans", sans-serif'>Female</text>
<text x="219.30" y="295.05" font-size="3.75" fill="#606060" stroke="#606060" stroke-width="0.1" font-family='"Liberation Sans", sans-serif'>Male</text>
<path d="M264.20,235.00 C265.17,239.17 268.05,252.40 270.00,260.00 C271.95,267.60 273.90,275.10 275.90,280.60 C277.90,286.10 279.98,289.45 282.00,293.00 C284.02,296.55 285.83,299.07 288.00,301.90 C290.17,304.73 292.67,307.57 295.00,310.00 C297.33,312.43 299.50,314.58 302.00,316.50 C304.50,318.42 307.00,320.08 310.00,321.50 C313.00,322.92 316.67,324.08 320.00,325.00 C323.33,325.92 325.83,326.75 330.00,327.00 C334.17,327.25 340.83,326.50 345.00,326.50 C349.17,326.50 351.67,326.42 355.00,327.00 C358.33,327.58 360.83,328.50 365.00,330.00 C369.17,331.50 375.00,334.08 380.00,336.00 C385.00,337.92 389.50,339.92 395.00,341.50 C400.50,343.08 410.00,344.83 413.00,345.50 L413.00,355.00 C410.00,354.33 400.50,352.50 395.00,351.00 C389.50,349.50 385.00,348.33 380.00,346.00 C375.00,343.67 369.17,339.17 365.00,337.00 C360.83,334.83 358.33,333.83 355.00,333.00 C351.67,332.17 349.17,331.92 345.00,332.00 C340.83,332.08 334.17,333.50 330.00,333.50 C325.83,333.50 323.33,332.67 320.00,332.00 C316.67,331.33 313.33,330.50 310.00,329.50 C306.67,328.50 303.33,327.35 300.00,326.00 C296.67,324.65 293.33,323.40 290.00,321.40 C286.67,319.40 283.33,317.25 280.00,314.00 C276.67,310.75 272.63,305.47 270.00,301.90 C267.37,298.33 265.17,294.15 264.20,292.60 Z" fill="#f0969b" fill-opacity="0.10"/>
<path d="M264.20,240.00 C265.17,243.67 268.05,255.00 270.00,262.00 C271.95,269.00 273.90,276.67 275.90,282.00 C277.90,287.33 279.98,290.58 282.00,294.00 C284.02,297.42 285.83,299.75 288.00,302.50 C290.17,305.25 292.67,308.08 295.00,310.50 C297.33,312.92 299.50,315.08 302.00,317.00 C304.50,318.92 307.00,320.58 310.00,322.00 C313.00,323.42 316.67,324.58 320.00,325.50 C323.33,326.42 325.83,327.25 330.00,327.50 C334.17,327.75 340.83,327.00 345.00,327.00 C349.17,327.00 351.67,326.83 355.00,327.50 C358.33,328.17 360.83,329.17 365.00,331.00 C369.17,332.83 375.00,336.25 380.00,338.50 C385.00,340.75 389.50,342.83 395.00,344.50 C400.50,346.17 410.00,347.83 413.00,348.50 L413.00,358.50 C410.00,357.92 400.50,356.42 395.00,355.00 C389.50,353.58 385.00,352.50 380.00,350.00 C375.00,347.50 369.17,342.67 365.00,340.00 C360.83,337.33 358.33,335.25 355.00,334.00 C351.67,332.75 349.17,332.50 345.00,332.50 C340.83,332.50 334.17,334.00 330.00,334.00 C325.83,334.00 323.33,333.17 320.00,332.50 C316.67,331.83 313.33,331.00 310.00,330.00 C306.67,329.00 303.33,327.93 300.00,326.50 C296.67,325.07 293.33,323.57 290.00,321.40 C286.67,319.23 283.33,316.90 280.00,313.50 C276.67,310.10 272.63,304.58 270.00,301.00 C267.37,297.42 265.17,293.50 264.20,292.00 Z" fill="#96c8dc" fill-opacity="0.07"/>
<line x1="255.70" y1="329.60" x2="420.60" y2="329.60" stroke="#909090" stroke-width="0.95" stroke-dasharray="2.8,1.83"/>
<path d="M264.20,272.20 C265.07,274.22 267.60,280.43 269.40,284.30 C271.20,288.17 273.13,292.15 275.00,295.40 C276.87,298.65 278.43,301.02 280.60,303.80 C282.77,306.58 285.53,309.65 288.00,312.10 C290.47,314.55 293.40,316.80 295.40,318.50 C297.40,320.20 298.33,321.13 300.00,322.30 C301.67,323.47 303.60,324.52 305.40,325.50 C307.20,326.48 309.02,327.45 310.80,328.20 C312.58,328.95 314.32,329.55 316.10,330.00 C317.88,330.45 319.70,330.70 321.50,330.90 C323.30,331.10 325.10,331.20 326.90,331.20 C328.70,331.20 330.50,331.07 332.30,330.90 C334.10,330.73 335.92,330.45 337.70,330.20 C339.48,329.95 341.22,329.60 343.00,329.40 C344.78,329.20 346.60,328.93 348.40,329.00 C350.20,329.07 351.58,329.17 353.80,329.80 C356.02,330.43 359.27,331.65 361.70,332.80 C364.13,333.95 365.80,335.22 368.40,336.70 C371.00,338.18 374.33,340.22 377.30,341.70 C380.27,343.18 383.23,344.38 386.20,345.60 C389.17,346.82 392.13,348.03 395.10,349.00 C398.07,349.97 401.02,350.67 404.00,351.40 C406.98,352.13 411.50,353.07 413.00,353.40" fill="none" stroke="#a8cadd" stroke-width="0.78"/>
<path d="M264.20,266.60 C265.07,268.93 267.60,276.27 269.40,280.60 C271.20,284.93 273.13,289.05 275.00,292.60 C276.87,296.15 278.43,298.80 280.60,301.90 C282.77,305.00 285.53,308.57 288.00,311.20 C290.47,313.83 293.40,315.90 295.40,317.70 C297.40,319.50 298.33,320.73 300.00,322.00 C301.67,323.27 303.60,324.30 305.40,325.30 C307.20,326.30 309.02,327.25 310.80,328.00 C312.58,328.75 314.32,329.35 316.10,329.80 C317.88,330.25 319.70,330.50 321.50,330.70 C323.30,330.90 325.10,331.00 326.90,331.00 C328.70,331.00 330.50,330.85 332.30,330.70 C334.10,330.55 335.92,330.33 337.70,330.10 C339.48,329.87 341.22,329.50 343.00,329.30 C344.78,329.10 346.60,328.90 348.40,328.90 C350.20,328.90 351.58,328.83 353.80,329.30 C356.02,329.77 359.27,330.75 361.70,331.70 C364.13,332.65 365.80,333.70 368.40,335.00 C371.00,336.30 374.33,338.18 377.30,339.50 C380.27,340.82 383.23,341.88 386.20,342.90 C389.17,343.92 392.13,344.77 395.10,345.60 C398.07,346.43 401.02,347.12 404.00,347.90 C406.98,348.68 411.50,349.90 413.00,350.30" fill="none" stroke="#e5a5ad" stroke-width="0.78"/>
<path d="M256.50,228.10 V361.50 H420.00" fill="none" stroke="#a0a0a0" stroke-width="1.00"/>
<line x1="255.30" y1="240.10" x2="256.50" y2="240.10" stroke="#8a8a8a" stroke-width="0.5"/>
<text x="254.40" y="241.54" font-size="3.60" text-anchor="end" fill="#666" stroke="#666" stroke-width="0.14" font-family='"Liberation Sans", sans-serif'>4</text>
<line x1="255.30" y1="269.70" x2="256.50" y2="269.70" stroke="#8a8a8a" stroke-width="0.5"/>
<text x="254.40" y="271.14" font-size="3.60" text-anchor="end" fill="#666" stroke="#666" stroke-width="0.14" font-family='"Liberation Sans", sans-serif'>3</text>
<line x1="255.30" y1="299.60" x2="256.50" y2="299.60" stroke="#8a8a8a" stroke-width="0.5"/>
<text x="254.40" y="301.04" font-size="3.60" text-anchor="end" fill="#666" stroke="#666" stroke-width="0.14" font-family='"Liberation Sans", sans-serif'>2</text>
<line x1="255.30" y1="329.50" x2="256.50" y2="329.50" stroke="#8a8a8a" stroke-width="0.5"/>
<text x="254.40" y="330.94" font-size="3.60" text-anchor="end" fill="#666" stroke="#666" stroke-width="0.14" font-family='"Liberation Sans", sans-serif'>1</text>
<line x1="255.30" y1="359.50" x2="256.50" y2="359.50" stroke="#8a8a8a" stroke-width="0.5"/>
<text x="254.40" y="360.94" font-size="3.60" text-anchor="end" fill="#666" stroke="#666" stroke-width="0.14" font-family='"Liberation Sans", sans-serif'>0</text>
<line x1="283.70" y1="361.50" x2="283.70" y2="362.70" stroke="#8a8a8a" stroke-width="0.5"/>
<text x="283.70" y="366.29" font-size="3.60" text-anchor="middle" fill="#666" stroke="#666" stroke-width="0.14" font-family='"Liberation Sans", sans-serif'>10</text>
<line x1="333.30" y1="361.50" x2="333.30" y2="362.70" stroke="#8a8a8a" stroke-width="0.5"/>
<text x="333.30" y="366.29" font-size="3.60" text-anchor="middle" fill="#666" stroke="#666" stroke-width="0.14" font-family='"Liberation Sans", sans-serif'>20</text>
<line x1="382.80" y1="361.50" x2="382.80" y2="362.70" stroke="#8a8a8a" stroke-width="0.5"/>
<text x="382.80" y="366.29" font-size="3.60" text-anchor="middle" fill="#666" stroke="#666" stroke-width="0.14" font-family='"Liberation Sans", sans-serif'>30</text>
<text x="338.40" y="371.08" font-size="4.40" text-anchor="middle" fill="#5a5a5a" stroke="#5a5a5a" stroke-width="0.15" font-family='"Liberation Sans", sans-serif'>OBS</text>
<text transform="translate(248.72,294.65) rotate(-90)" font-size="4.50" text-anchor="middle" fill="#747474" stroke="#747474" stroke-width="0.13" font-family='"Liberation Sans", sans-serif'>OR for High WC (95%CI)</text>
<text x="239.40" y="210.10" font-size="13.80" fill="#111" font-family='"Liberation Sans", sans-serif'>E</text>
<text x="326.90" y="270.04" font-size="4.97" fill="#444" stroke="#444" stroke-width="0.1" font-family='"Liberation Serif", serif'>Female:<tspan dx="3.73" font-style="italic">P</tspan> for nonlinear &lt;0.0001</text>
<text x="326.90" y="275.54" font-size="4.97" fill="#444" stroke="#444" stroke-width="0.1" font-family='"Liberation Serif", serif'>Male:<tspan dx="1.24" font-style="italic">P</tspan> for nonlinear&lt;0.0001</text>
<text x="427.20" y="288.33" font-size="4.44" fill="#555" stroke="#555" stroke-width="0.12" font-family='"Liberation Sans", sans-serif'>sex</text>
<rect x="427.20" y="291.60" width="6.20" height="5.80" fill="#f0969b" fill-opacity="0.08"/>
<rect x="427.20" y="298.70" width="6.20" height="5.80" fill="#96c8dc" fill-opacity="0.07"/>
<line x1="427.20" y1="294.50" x2="433.40" y2="294.50" stroke="#e5a5ad" stroke-width="0.9"/>
<line x1="427.20" y1="301.60" x2="433.40" y2="301.60" stroke="#a8cadd" stroke-width="0.9"/>
<text x="436.10" y="295.78" font-size="3.55" fill="#666" stroke="#666" stroke-width="0.1" font-family='"Liberation Sans", sans-serif'>Female</text>
<text x="436.10" y="302.88" font-size="3.55" fill="#666" stroke="#666" stroke-width="0.1" font-family='"Liberation Sans", sans-serif'>Male</text>
<path d="M485.00,251.00 C487.00,253.33 492.88,260.50 497.00,265.00 C501.12,269.50 505.45,274.17 509.70,278.00 C513.95,281.83 518.25,285.17 522.50,288.00 C526.75,290.83 530.62,293.08 535.20,295.00 C539.78,296.92 545.22,298.50 550.00,299.50 C554.78,300.50 559.20,300.08 563.90,301.00 C568.60,301.92 573.43,303.67 578.20,305.00 C582.97,306.33 587.73,307.67 592.50,309.00 C597.27,310.33 600.92,311.47 606.80,313.00 C612.68,314.53 624.30,317.33 627.80,318.20 L627.80,351.60 C624.30,349.33 612.68,342.10 606.80,338.00 C600.92,333.90 597.27,330.67 592.50,327.00 C587.73,323.33 582.97,319.08 578.20,316.00 C573.43,312.92 568.60,309.92 563.90,308.50 C559.20,307.08 554.78,307.75 550.00,307.50 C545.22,307.25 539.78,307.25 535.20,307.00 C530.62,306.75 526.75,306.33 522.50,306.00 C518.25,305.67 513.95,305.33 509.70,305.00 C505.45,304.67 501.12,304.33 497.00,304.00 C492.88,303.67 487.00,303.17 485.00,303.00 Z" fill="#f0969b" fill-opacity="0.10"/>
<path d="M485.00,240.60 C487.00,243.50 492.88,252.43 497.00,258.00 C501.12,263.57 505.45,269.17 509.70,274.00 C513.95,278.83 518.25,283.33 522.50,287.00 C526.75,290.67 530.62,293.92 535.20,296.00 C539.78,298.08 545.22,299.00 550.00,299.50 C554.78,300.00 559.20,298.33 563.90,299.00 C568.60,299.67 573.43,301.00 578.20,303.50 C582.97,306.00 587.73,310.42 592.50,314.00 C597.27,317.58 600.92,321.00 606.80,325.00 C612.68,329.00 624.30,335.83 627.80,338.00 L627.80,354.00 C624.30,352.50 612.68,348.50 606.80,345.00 C600.92,341.50 597.27,337.50 592.50,333.00 C587.73,328.50 582.97,322.08 578.20,318.00 C573.43,313.92 568.60,310.08 563.90,308.50 C559.20,306.92 554.78,308.00 550.00,308.50 C545.22,309.00 539.78,310.92 535.20,311.50 C530.62,312.08 526.75,312.42 522.50,312.00 C518.25,311.58 513.95,310.33 509.70,309.00 C505.45,307.67 501.12,305.50 497.00,304.00 C492.88,302.50 487.00,300.67 485.00,300.00 Z" fill="#96c8dc" fill-opacity="0.07"/>
<line x1="476.70" y1="304.50" x2="635.00" y2="304.50" stroke="#909090" stroke-width="0.95" stroke-dasharray="2.9,1.66"/>
<path d="M485.00,271.30 C485.83,272.18 488.28,274.93 490.00,276.60 C491.72,278.27 493.53,279.75 495.30,281.30 C497.07,282.85 498.83,284.35 500.60,285.90 C502.37,287.45 504.13,289.17 505.90,290.60 C507.67,292.03 509.43,293.18 511.20,294.50 C512.97,295.82 514.73,297.28 516.50,298.50 C518.27,299.72 520.02,300.85 521.80,301.80 C523.58,302.75 525.00,303.60 527.20,304.20 C529.40,304.80 532.77,305.27 535.00,305.40 C537.23,305.53 538.75,305.17 540.60,305.00 C542.45,304.83 544.25,304.62 546.10,304.40 C547.95,304.18 549.83,303.85 551.70,303.70 C553.57,303.55 555.43,303.47 557.30,303.50 C559.17,303.53 561.05,303.67 562.90,303.90 C564.75,304.13 566.55,304.43 568.40,304.90 C570.25,305.37 572.13,306.02 574.00,306.70 C575.87,307.38 577.77,307.98 579.60,309.00 C581.43,310.02 583.15,311.48 585.00,312.80 C586.85,314.12 589.12,315.62 590.70,316.90 C592.28,318.18 592.27,318.55 594.50,320.50 C596.73,322.45 600.92,326.05 604.10,328.60 C607.28,331.15 609.63,332.62 613.60,335.80 C617.57,338.98 625.52,345.72 627.90,347.70" fill="none" stroke="#a8cadd" stroke-width="0.78"/>
<path d="M485.00,285.60 C485.83,285.92 488.28,286.90 490.00,287.50 C491.72,288.10 493.53,288.62 495.30,289.20 C497.07,289.78 498.83,290.45 500.60,291.00 C502.37,291.55 504.13,291.98 505.90,292.50 C507.67,293.02 509.43,293.53 511.20,294.10 C512.97,294.67 514.73,295.32 516.50,295.90 C518.27,296.48 520.02,297.05 521.80,297.60 C523.58,298.15 525.00,298.65 527.20,299.20 C529.40,299.75 532.77,300.45 535.00,300.90 C537.23,301.35 538.75,301.58 540.60,301.90 C542.45,302.22 544.25,302.50 546.10,302.80 C547.95,303.10 549.83,303.38 551.70,303.70 C553.57,304.02 555.43,304.35 557.30,304.70 C559.17,305.05 561.05,305.47 562.90,305.80 C564.75,306.13 566.55,306.32 568.40,306.70 C570.25,307.08 572.13,307.55 574.00,308.10 C575.87,308.65 577.77,309.18 579.60,310.00 C581.43,310.82 583.15,312.00 585.00,313.00 C586.85,314.00 589.12,315.20 590.70,316.00 C592.28,316.80 592.27,316.75 594.50,317.80 C596.73,318.85 600.92,320.77 604.10,322.30 C607.28,323.83 609.63,325.02 613.60,327.00 C617.57,328.98 625.52,333.00 627.90,334.20" fill="none" stroke="#e5a5ad" stroke-width="0.78"/>
<path d="M477.50,230.80 V362.50 H635.00" fill="none" stroke="#a0a0a0" stroke-width="1.00"/>
<line x1="476.30" y1="231.30" x2="477.50" y2="231.30" stroke="#8a8a8a" stroke-width="0.5"/>
<text x="475.40" y="232.74" font-size="3.60" text-anchor="end" fill="#666" stroke="#666" stroke-width="0.14" font-family='"Liberation Sans", sans-serif'>2.0</text>
<line x1="476.30" y1="267.80" x2="477.50" y2="267.80" stroke="#8a8a8a" stroke-width="0.5"/>
<text x="475.40" y="269.24" font-size="3.60" text-anchor="end" fill="#666" stroke="#666" stroke-width="0.14" font-family='"Liberation Sans", sans-serif'>1.5</text>
<line x1="476.30" y1="304.30" x2="477.50" y2="304.30" stroke="#8a8a8a" stroke-width="0.5"/>
<text x="475.40" y="305.74" font-size="3.60" text-anchor="end" fill="#666" stroke="#666" stroke-width="0.14" font-family='"Liberation Sans", sans-serif'>1.0</text>
<line x1="476.30" y1="340.80" x2="477.50" y2="340.80" stroke="#8a8a8a" stroke-width="0.5"/>
<text x="475.40" y="342.24" font-size="3.60" text-anchor="end" fill="#666" stroke="#666" stroke-width="0.14" font-family='"Liberation Sans", sans-serif'>0.5</text>
<line x1="503.50" y1="362.50" x2="503.50" y2="363.70" stroke="#8a8a8a" stroke-width="0.5"/>
<text x="503.50" y="367.29" font-size="3.60" text-anchor="middle" fill="#666" stroke="#666" stroke-width="0.14" font-family='"Liberation Sans", sans-serif'>10</text>
<line x1="551.50" y1="362.50" x2="551.50" y2="363.70" stroke="#8a8a8a" stroke-width="0.5"/>
<text x="551.50" y="367.29" font-size="3.60" text-anchor="middle" fill="#666" stroke="#666" stroke-width="0.14" font-family='"Liberation Sans", sans-serif'>20</text>
<line x1="599.70" y1="362.50" x2="599.70" y2="363.70" stroke="#8a8a8a" stroke-width="0.5"/>
<text x="599.70" y="367.29" font-size="3.60" text-anchor="middle" fill="#666" stroke="#666" stroke-width="0.14" font-family='"Liberation Sans", sans-serif'>30</text>
<text x="557.40" y="371.18" font-size="4.40" text-anchor="middle" fill="#5a5a5a" stroke="#5a5a5a" stroke-width="0.15" font-family='"Liberation Sans", sans-serif'>OBS</text>
<text transform="translate(467.42,296.80) rotate(-90)" font-size="4.49" text-anchor="middle" fill="#747474" stroke="#747474" stroke-width="0.13" font-family='"Liberation Sans", sans-serif'>OR for Hypertension (95%CI)</text>
<text x="472.60" y="210.90" font-size="13.80" fill="#111" font-family='"Liberation Sans", sans-serif'>F</text>
<text x="543.80" y="272.60" font-size="4.84" fill="#444" stroke="#444" stroke-width="0.1" font-family='"Liberation Serif", serif'>Female:<tspan dx="3.63" font-style="italic">P</tspan> for nonlinear= 0.2760</text>
<text x="543.80" y="277.70" font-size="4.84" fill="#444" stroke="#444" stroke-width="0.1" font-family='"Liberation Serif", serif'>Male:<tspan dx="1.21" font-style="italic">P</tspan> for nonlinear&lt;0.0001</text>
<text x="642.20" y="290.61" font-size="4.38" fill="#555" stroke="#555" stroke-width="0.12" font-family='"Liberation Sans", sans-serif'>sex</text>
<rect x="642.20" y="293.50" width="5.60" height="5.80" fill="#f0969b" fill-opacity="0.08"/>
<rect x="642.20" y="300.40" width="5.60" height="5.80" fill="#96c8dc" fill-opacity="0.07"/>
<line x1="642.20" y1="296.40" x2="647.80" y2="296.40" stroke="#e5a5ad" stroke-width="0.9"/>
<line x1="642.20" y1="303.30" x2="647.80" y2="303.30" stroke="#a8cadd" stroke-width="0.9"/>
<text x="651.30" y="297.66" font-size="3.50" fill="#666" stroke="#666" stroke-width="0.1" font-family='"Liberation Sans", sans-serif'>Female</text>
<text x="651.30" y="304.56" font-size="3.50" fill="#666" stroke="#666" stroke-width="0.1" font-family='"Liberation Sans", sans-serif'>Male</text>
</svg>
</body></html>
